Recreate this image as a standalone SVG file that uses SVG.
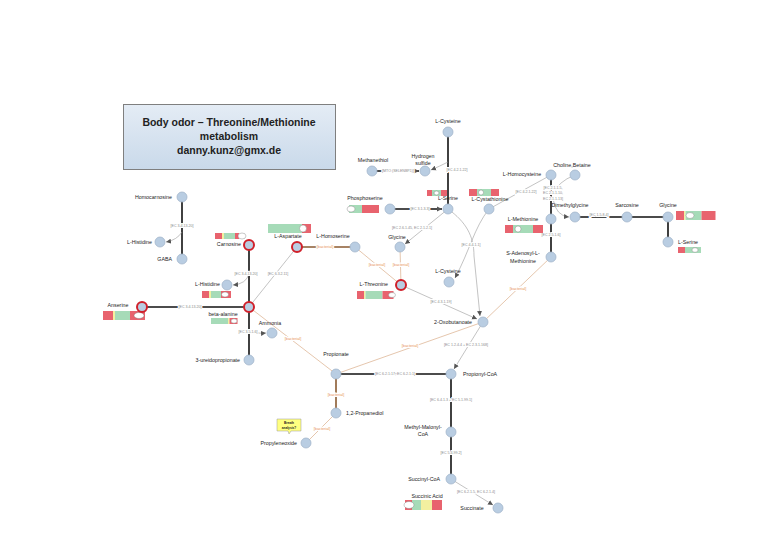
<svg xmlns="http://www.w3.org/2000/svg" width="768" height="557" viewBox="0 0 768 557">
<defs>
<linearGradient id="tg" x1="0" y1="0" x2="0" y2="1"><stop offset="0" stop-color="#e4ecf5"/><stop offset="1" stop-color="#c9d9ea"/></linearGradient>
<marker id="ar" markerWidth="6" markerHeight="6" refX="5" refY="3" orient="auto" markerUnits="userSpaceOnUse"><path d="M0,0.5 L5,3 L0,5.5 z" fill="#555"/></marker>
<style>
.n{fill:#b9cde2;stroke:#a3b6cc;stroke-width:0.8}
.r{fill:#b9cde2;stroke:#d0202a;stroke-width:2}
.t{font-family:"Liberation Sans",Arial,sans-serif;font-size:5.3px;fill:#222}
.ec{font-family:"Liberation Sans",Arial,sans-serif;font-size:3.6px;fill:#8a8a8a;stroke:#fff;stroke-width:2;paint-order:stroke;text-anchor:middle}
.bac{font-family:"Liberation Sans",Arial,sans-serif;font-size:3.8px;fill:#e8965a;stroke:#fff;stroke-width:2;paint-order:stroke;text-anchor:middle}
.k{stroke:#111;stroke-width:1.6;fill:none}
.g{stroke:#9a9a9a;stroke-width:0.6;fill:none}
.b{stroke:#8a5a30;stroke-width:1.6;fill:none}
.tn{stroke:#deb898;stroke-width:0.8;fill:none}
.rd{fill:#e8636e}.yl{fill:#f3f0a0}.gr{fill:#a6dbb8}
.ov{fill:#fff;stroke:#777;stroke-width:0.4}
.m{text-anchor:middle}.e{text-anchor:end}
.tt{font-family:"Liberation Sans",Arial,sans-serif;font-weight:bold;font-size:10.5px;fill:#222;text-anchor:middle}
</style>
</defs>
<rect width="768" height="557" fill="#fff"/>
<g id="title">
<rect x="123.5" y="104.5" width="212" height="65" fill="url(#tg)" stroke="#7f7f7f" stroke-width="1"/>
<text class="tt" x="229" y="126">Body odor – Threonine/Methionine</text>
<text class="tt" x="229" y="140">metabolism</text>
<text class="tt" x="229" y="154">danny.kunz@gmx.de</text>
</g>
<g id="connectors">
<path class="k" d="M182,197 V259"/>
<path class="g" d="M182,232 Q177,240 166,242" marker-end="url(#ar)"/>
<path class="k" d="M249,245 V360"/>
<path class="k" d="M142,307 H249"/>
<path class="g" d="M297,247 L249,307"/>
<path class="g" d="M249,274 Q246,284 233,285" marker-end="url(#ar)"/>
<path class="g" d="M249,330 Q254,334 266,333" marker-end="url(#ar)"/>
<path class="tn" d="M249,307 L336,374"/>
<path class="b" d="M297,247 H355"/>
<path class="tn" d="M355,247 L401,285"/>
<path class="tn" d="M400,247 L401,285"/>
<path class="g" d="M401,285 L477,319" marker-end="url(#ar)"/>
<path class="k" d="M372,171 H419" stroke-width="1" marker-end="url(#ar)"/>
<path class="k" d="M448,132 V209"/>
<path class="g" d="M448,162 Q440,166 431,170" marker-end="url(#ar)"/>
<path class="k" d="M390,209 H442" marker-end="url(#ar)"/>
<path class="g" d="M448,209 L405,244" marker-end="url(#ar)"/>
<path class="g" d="M448,209 C466,222 474,236 474,256 L480,316" marker-end="url(#ar)"/>
<path class="g" d="M489,209 C474,228 470,250 455,278" marker-end="url(#ar)"/>
<path class="g" d="M551,175 L489,209"/>
<path class="k" d="M551,175 V257"/>
<path class="g" d="M575,175 Q557,182 554,194"/>
<path class="g" d="M553,199 Q556,216 569,217" marker-end="url(#ar)"/>
<path class="k" d="M575,217 H668 V242"/>
<path class="tn" d="M551,257 L483,322"/>
<path class="g" d="M483,322 L454,369" marker-end="url(#ar)"/>
<path class="tn" d="M483,322 L336,374"/>
<path class="k" d="M336,374 H451"/>
<path class="b" d="M336,374 V413"/>
<path class="tn" d="M336,413 L306,443"/>
<path class="k" d="M451,374 V479"/>
<path class="g" d="M451,479 L493,505" marker-end="url(#ar)"/>
<text class="ec" x="182" y="227">[EC 3.4.13.20]</text>
<text class="ec" x="246" y="275">[EC 3.4.13.20]</text>
<text class="ec" x="278" y="275">[EC 6.3.2.11]</text>
<text class="ec" x="190" y="308">[EC 3.4.13.20]</text>
<text class="ec" x="248" y="333">[EC 3.5.1.6]</text>
<text class="bac" x="293" y="340">[bacterial]</text>
<text class="bac" x="325" y="248">[bacterial]</text>
<text class="bac" x="377" y="266">[bacterial]</text>
<text class="bac" x="401" y="266">[bacterial]</text>
<text class="ec" x="441" y="303">[EC 4.3.1.19]</text>
<text class="ec" x="398" y="172">[MTO (SELENBP1)]</text>
<text class="ec" x="457" y="171">[EC 4.2.1.22]</text>
<text class="ec" x="420" y="210">[EC 3.1.3.3]</text>
<text class="ec" x="412" y="229">[EC 2.6.1.45, EC 2.1.2.1]</text>
<text class="ec" x="471" y="246">[EC 4.4.1.1]</text>
<text class="ec" x="526" y="193">[EC 4.2.1.22]</text>
<text class="ec" x="553" y="189">[EC 2.1.1.5,</text>
<text class="ec" x="553" y="194">EC 2.1.1.10,</text>
<text class="ec" x="553" y="200">EC 2.1.1.13]</text>
<text class="ec" x="551" y="236">[EC 2.5.1.6]</text>
<text class="ec" x="599" y="216">[EC 1.5.8.4]</text>
<text class="bac" x="518" y="290">[bacterial]</text>
<text class="ec" x="466" y="346">[EC 1.2.4.4 + EC 2.3.1.168]</text>
<text class="bac" x="410" y="347">[bacterial]</text>
<text class="ec" x="395" y="375">[EC 6.2.1.17, EC 6.2.1.1]</text>
<text class="bac" x="336" y="396">[bacterial]</text>
<text class="bac" x="322" y="430">[bacterial]</text>
<text class="ec" x="451" y="401">[EC 6.4.1.3 + EC 5.1.99.1]</text>
<text class="ec" x="451" y="454">[EC 5.4.99.2]</text>
<text class="ec" x="476" y="493">[EC 6.2.1.5, EC 6.2.1.4]</text>
</g>
<g id="homocarnosine"><circle class="n" cx="182" cy="197" r="5"/><text class="t e" x="172" y="199">Homocarnosine</text></g>
<g id="l-histidine-1"><circle class="n" cx="160" cy="242" r="5"/><text class="t e" x="152" y="244">L-Histidine</text></g>
<g id="gaba"><circle class="n" cx="182" cy="259" r="5"/><text class="t e" x="172" y="261">GABA</text></g>
<g id="carnosine"><rect class="rd" x="215" y="233" width="7" height="6"/><rect class="yl" x="222" y="233" width="2" height="6"/><rect class="gr" x="224" y="233" width="11" height="6"/><rect class="rd" x="235" y="233" width="4" height="6"/><ellipse class="ov" cx="242" cy="236" rx="4" ry="3"/><circle class="r" cx="249" cy="245" r="5"/><text class="t e" x="241" y="246">Carnosine</text></g>
<g id="l-aspartate"><rect class="gr" x="268" y="224" width="34" height="9"/><rect class="rd" x="302" y="224" width="9" height="9"/><circle cx="303" cy="228.5" r="3.5" fill="#fff" stroke="#777" stroke-width="0.4"/><circle class="r" cx="297" cy="247" r="5"/><text class="t m" x="288" y="238">L-Aspartate</text></g>
<g id="l-homoserine"><circle class="n" cx="355" cy="247" r="5"/><text class="t m" x="333" y="238">L-Homoserine</text></g>
<g id="l-histidine-2"><rect class="rd" x="202" y="291" width="7" height="7"/><rect class="yl" x="209" y="291" width="2" height="7"/><rect class="gr" x="211" y="291" width="10" height="7"/><rect class="rd" x="221" y="291" width="10" height="7"/><ellipse class="ov" cx="225" cy="294.5" rx="3.5" ry="2.5"/><circle class="n" cx="227" cy="285" r="5"/><text class="t e" x="220" y="286">L-Histidine</text></g>
<g id="anserine"><rect class="rd" x="103" y="311" width="10" height="9"/><rect class="yl" x="113" y="311" width="2" height="9"/><rect class="gr" x="115" y="311" width="15" height="9"/><rect class="rd" x="130" y="311" width="15" height="9"/><ellipse class="ov" cx="139" cy="315.5" rx="5" ry="3"/><circle class="r" cx="142" cy="307" r="5"/><text class="t m" x="118" y="307">Anserine</text></g>
<g id="beta-alanine"><rect class="gr" x="211" y="318" width="17" height="6"/><rect class="yl" x="228" y="318" width="1.5" height="6"/><rect class="rd" x="229.5" y="318" width="8" height="6"/><ellipse class="ov" cx="234" cy="321" rx="3" ry="2.2"/><circle class="r" cx="249" cy="307" r="5"/><text class="t m" x="223" y="316">beta-alanine</text></g>
<g id="ammonia"><circle class="n" cx="272" cy="333" r="5"/><text class="t m" x="270" y="325">Ammonia</text></g>
<g id="ureidopropionate"><circle class="n" cx="249" cy="360" r="5"/><text class="t e" x="240" y="362">3-ureidopropionate</text></g>
<g id="l-cysteine-top"><circle class="n" cx="448" cy="132" r="5"/><text class="t m" x="448" y="123">L-Cysteine</text></g>
<g id="methanethiol"><circle class="n" cx="372" cy="171" r="5"/><text class="t m" x="373" y="162">Methanethiol</text></g>
<g id="hydrogen-sulfide"><circle class="n" cx="425" cy="171" r="5"/><text class="t m" x="423" y="158">Hydrogen</text><text class="t m" x="423" y="165">sulfide</text></g>
<g id="l-serine"><rect class="rd" x="427" y="190" width="5" height="6"/><rect class="gr" x="432" y="190" width="9" height="6"/><rect class="rd" x="441" y="190" width="6" height="6"/><ellipse class="ov" cx="436.5" cy="193" rx="2.5" ry="2"/><circle class="n" cx="448" cy="209" r="5"/><text class="t m" x="448" y="200">L-Serine</text></g>
<g id="phosphoserine"><rect class="gr" x="349" y="205" width="13" height="8"/><rect class="rd" x="362" y="205" width="17" height="8"/><ellipse class="ov" cx="351" cy="209" rx="4" ry="3"/><circle class="n" cx="390" cy="209" r="5"/><text class="t m" x="365" y="200">Phosphoserine</text></g>
<g id="l-cystathionine"><rect class="rd" x="469" y="189" width="8" height="7"/><rect class="gr" x="477" y="189" width="14" height="7"/><rect class="rd" x="491" y="189" width="8" height="7"/><ellipse class="ov" cx="481" cy="192.5" rx="2.5" ry="2.5"/><circle class="n" cx="489" cy="209" r="5"/><text class="t m" x="490" y="201">L-Cystathionine</text></g>
<g id="glycine-mid"><circle class="n" cx="400" cy="247" r="5"/><text class="t m" x="397" y="239">Glycine</text></g>
<g id="l-threonine"><rect class="rd" x="357" y="291" width="7" height="8"/><rect class="yl" x="364" y="291" width="1.5" height="8"/><rect class="gr" x="365.5" y="291" width="17" height="8"/><rect class="rd" x="382.5" y="291" width="11" height="8"/><ellipse class="ov" cx="392" cy="295" rx="3.5" ry="2.5"/><circle class="r" cx="401" cy="285" r="5"/><text class="t e" x="388" y="286">L-Threonine</text></g>
<g id="l-cysteine-mid"><circle class="n" cx="449" cy="282" r="5"/><text class="t m" x="448" y="273">L-Cysteine</text></g>
<g id="oxobutanoate"><circle class="n" cx="483" cy="322" r="5"/><text class="t e" x="472" y="324">2-Oxobutanoate</text></g>
<g id="l-homocysteine"><circle class="n" cx="551" cy="175" r="5"/><text class="t m" x="522" y="176">L-Homocysteine</text></g>
<g id="choline-betaine"><circle class="n" cx="575" cy="175" r="5"/><text class="t m" x="572" y="167">Choline,Betaine</text></g>
<g id="dimethylglycine"><circle class="n" cx="575" cy="217" r="5"/><text class="t m" x="570" y="207">Dimethylglycine</text></g>
<g id="l-methionine"><rect class="rd" x="505" y="225" width="8" height="8"/><rect class="gr" x="513" y="225" width="20" height="8"/><rect class="rd" x="533" y="225" width="10" height="8"/><ellipse class="ov" cx="518" cy="229" rx="3" ry="3"/><circle class="n" cx="551" cy="219" r="5"/><text class="t m" x="523" y="221">L-Methionine</text></g>
<g id="s-adenosyl"><circle class="n" cx="551" cy="257" r="5"/><text class="t m" x="523" y="255">S-Adenosyl-L-</text><text class="t m" x="523" y="263">Methionine</text></g>
<g id="sarcosine"><circle class="n" cx="627" cy="217" r="5"/><text class="t m" x="627" y="207">Sarcosine</text></g>
<g id="glycine-right"><rect class="rd" x="676" y="211" width="8" height="9"/><rect class="yl" x="684" y="211" width="1.5" height="9"/><rect class="gr" x="685.5" y="211" width="16" height="9"/><rect class="rd" x="701.5" y="211" width="14" height="9"/><ellipse class="ov" cx="690" cy="215.5" rx="4" ry="3"/><circle class="n" cx="668" cy="217" r="5"/><text class="t m" x="668" y="207">Glycine</text></g>
<g id="l-serine-right"><rect class="rd" x="678" y="247" width="7" height="6"/><rect class="gr" x="685" y="247" width="16" height="6"/><ellipse class="ov" cx="695" cy="250" rx="3" ry="2.3"/><circle class="n" cx="668" cy="242" r="5"/><text class="t" x="678" y="244">L-Serine</text></g>
<g id="propionate"><circle class="n" cx="336" cy="374" r="5"/><text class="t m" x="336" y="356">Propionate</text></g>
<g id="propionyl-coa"><circle class="n" cx="451" cy="374" r="5"/><text class="t" x="463" y="376">Propionyl-CoA</text></g>
<g id="propanediol"><circle class="n" cx="336" cy="413" r="5"/><text class="t" x="346" y="415">1,2-Propanediol</text></g>
<g id="breath-note"><path d="M277,419 H301 V431 H291 L289,434 L288,431 H277 Z" fill="#ffff80" stroke="#999" stroke-width="0.5"/><text x="289" y="424" font-family="Liberation Sans,Arial,sans-serif" font-weight="bold" font-size="3.2" text-anchor="middle" fill="#222">Breath</text><text x="289" y="428.5" font-family="Liberation Sans,Arial,sans-serif" font-weight="bold" font-size="3.2" text-anchor="middle" fill="#222">analysis?</text></g>
<g id="propyleneoxide"><circle class="n" cx="306" cy="443" r="5"/><text class="t e" x="297" y="445">Propyleneoxide</text></g>
<g id="methyl-malonyl-coa"><circle class="n" cx="451" cy="432" r="5"/><text class="t m" x="423" y="429">Methyl-Malonyl-</text><text class="t m" x="423" y="436">CoA</text></g>
<g id="succinyl-coa"><circle class="n" cx="451" cy="479" r="5" stroke="#e08090"/><text class="t e" x="440" y="481">Succinyl-CoA</text></g>
<g id="succinic-acid"><rect class="rd" x="405" y="500" width="7" height="10"/><rect class="gr" x="412" y="500" width="9" height="10"/><rect class="yl" x="421" y="500" width="11" height="10"/><rect class="rd" x="432" y="500" width="10" height="10"/><ellipse class="ov" cx="409" cy="505" rx="5" ry="3.5"/><text class="t m" x="427" y="498">Succinic Acid</text></g>
<g id="succinate"><circle class="n" cx="498" cy="508" r="5"/><text class="t m" x="472" y="510">Succinate</text></g>
</svg>
